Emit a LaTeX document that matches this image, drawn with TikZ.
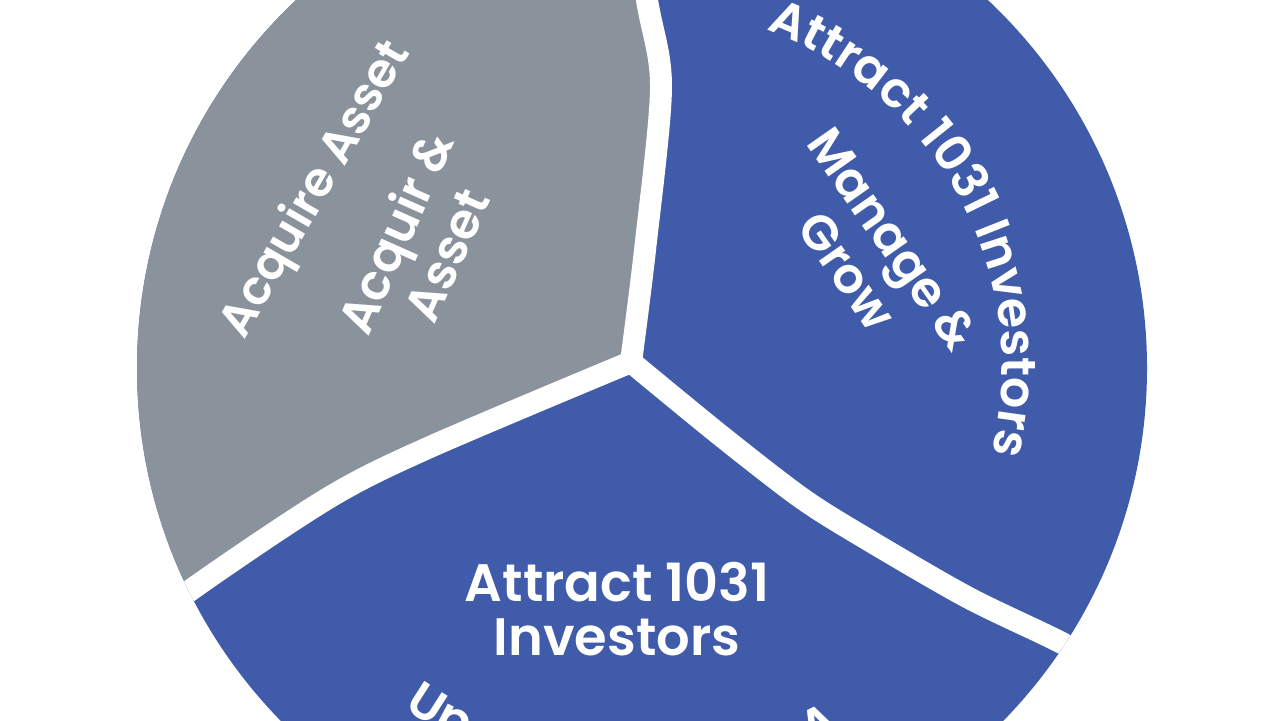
\documentclass[tikz,border=0pt]{standalone}
\usepackage{fontspec}
\setmainfont{Poppins}[BoldFont={Poppins SemiBold}]
\usetikzlibrary{decorations.text}
\definecolor{pgray}{HTML}{8A939B}
\definecolor{pblue}{HTML}{3F5BA9}
\tikzset{
  lbl/.style={text=white, font=\bfseries\fontsize{28}{32}\selectfont, align=center, inner sep=0pt},
  sepline/.style={draw=white, line width=12.5pt, line join=round, line cap=round},
}
\begin{document}
\begin{tikzpicture}[x=0.02cm,y=0.02cm]
\useasboundingbox (0,0) rectangle (1280,-720);
\clip (0,0) rectangle (1280,-720);
\coordinate (C) at (642,-368);
\begin{scope}
  \clip (C) circle[radius=505];
  \fill[pblue] (C) circle[radius=510];
  \fill[pgray] plot[smooth] coordinates {(631,-362) (645,-250) (661,-88) (647,0) (625,140)}
     -- (200,400) -- (-300,400) -- (-300,-900) -- (100,-660)
     -- plot[smooth] coordinates {(195,-587) (330,-497) (430,-447) (631,-362)} -- cycle;
  \draw[sepline] plot[smooth] coordinates {(631,-362) (645,-250) (661,-88) (647,0) (625,140)};
  \draw[sepline] plot[smooth] coordinates {(631,-362) (430,-447) (330,-497) (195,-587) (100,-660)};
  \draw[sepline] plot[smooth] coordinates {(631,-362) (720,-435) (800,-497) (860,-535) (967,-597) (1060,-642) (1160,-695)};
\end{scope}
% straight labels
\node[lbl, rotate=60, font=\bfseries\fontsize{27}{32}\selectfont] (acq1) at (317,-190) {Acquire Asset};
\node[lbl, rotate=66] (acq2) at (420,-243) {Acquir \&\\Asset};
\node[lbl, rotate=-55] (mng) at (870,-255) {Manage \&\\Grow};
\node[lbl, font=\bfseries\fontsize{30}{31}\selectfont] (att) at (617,-609) {Attract 1031\\Investors};
% curved labels
\path[decorate, decoration={text along path, text align=center, text color=white,
   text={|\bfseries\fontsize{28}{32}\selectfont|Attract 1031 Investors}}]
   ([shift={(C)}]78:360) arc[start angle=78, end angle=-22, radius=360];
\path[decorate, decoration={text along path, text color=white,
   text={|\bfseries\fontsize{28}{32}\selectfont|Up}}]
   ([shift={(C)}]235:415) arc[start angle=235, end angle=262, radius=415];
\path[decorate, decoration={text along path, text color=white,
   text={|\bfseries\fontsize{28}{32}\selectfont|A}}]
   ([shift={(C)}]294:415) arc[start angle=294, end angle=312, radius=415];
\end{tikzpicture}
\end{document}
